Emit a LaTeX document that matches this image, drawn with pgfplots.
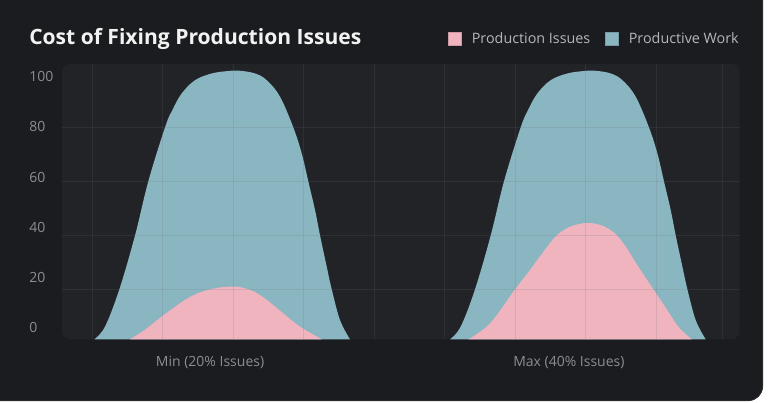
\documentclass[border=0pt]{standalone}
\usepackage{pgfplots}
\pgfplotsset{compat=1.18}
\usepackage{fontspec}
\setmainfont{Open Sans}

\definecolor{pagebg}{HTML}{FFFFFF}
\definecolor{cardbg}{HTML}{1B1C1F}
\definecolor{cardedge}{HTML}{2A2B30}
\definecolor{plotbg}{HTML}{222327}
\definecolor{gridc}{HTML}{6C6F76}
\definecolor{workc}{HTML}{8AB6C2}
\definecolor{issuec}{HTML}{F0B4BF}
\definecolor{ticktext}{HTML}{8B8D95}
\definecolor{legtext}{HTML}{B4B6BC}
\definecolor{titletext}{HTML}{F2F2F3}

% Productive work (full effort curve), Min scenario
\pgfplotstableread{
x y
0.028 0
0.180 4.7
0.383 18.5
0.606 38.5
0.794 58.5
1.031 78.5
1.135 84.9
1.268 91.1
1.457 96.0
1.694 98.5
1.929 99.4
2.090 99.5
2.308 98.5
2.474 96.0
2.662 89.9
2.851 78.5
2.970 68.9
3.064 58.5
3.159 47.9
3.230 38.5
3.325 26.9
3.396 18.5
3.514 7.1
3.655 0
}\workmin

% Productive work, Max scenario
\pgfplotstableread{
x y
5.073 0
5.225 4.7
5.428 18.5
5.651 38.5
5.839 58.5
6.076 78.5
6.180 84.9
6.313 91.1
6.502 96.0
6.739 98.5
6.974 99.4
7.135 99.5
7.353 98.5
7.519 96.0
7.707 89.9
7.896 78.5
8.015 68.9
8.109 58.5
8.204 47.9
8.275 38.5
8.370 26.9
8.441 18.5
8.559 7.1
8.700 0
}\workmax

% Production issues, Min scenario
\pgfplotstableread{
x y
0.535 0
0.750 3.6
0.984 8.4
1.315 14.6
1.552 17.6
1.787 19.1
1.980 19.5
2.120 19.2
2.300 17.6
2.474 14.6
2.709 9.6
2.946 4.7
3.254 0
}\issuemin

% Production issues, Max scenario
\pgfplotstableread{
x y
5.333 0
5.641 5.9
5.996 18.5
6.209 25.7
6.397 32.4
6.587 38.5
6.776 41.7
6.965 43.0
7.060 43.1
7.173 42.6
7.300 41.3
7.450 38.3
7.600 33.0
7.745 26.9
8.123 12.1
8.312 4.7
8.502 0
}\issuemax

\begin{document}
\begin{tikzpicture}
\useasboundingbox (0,0) rectangle (576pt,-302.25pt);
\clip (0,0) rectangle (576pt,-302.25pt);
\begin{scope}[x=0.75pt,y=-0.75pt]
  \fill[pagebg] (0,0) rectangle (768,403);
  \fill[cardbg, draw=cardedge, line width=0.75pt, rounded corners=10.5pt] (-30,-30) rectangle (762.5,400.5);
  \fill[plotbg, rounded corners=6pt] (62,64) rectangle (739.5,339.3);
  \node[anchor=base west, inner sep=0pt, text=titletext,
        font=\bfseries\fontsize{15.8}{18}\selectfont] at (29,45)
        {Cost of Fixing Production Issues};
\end{scope}

\begin{axis}[
  at={(46.5pt,-254.475pt)}, anchor=south west,
  width=508.125pt, height=206.475pt, scale only axis,
  xmin=-0.43, xmax=9.18, ymin=0, ymax=102,
  axis line style={draw=none},
  tick style={draw=none},
  axis on top,
  xtick={0,1,2,3,4,5,6,7,8,8.94},
  xticklabels={},
  ytick={18.5,38.5,58.5,78.5},
  yticklabels={},
  grid=major,
  major grid style={gridc, opacity=0.18, line width=0.75pt},
  extra x ticks={1.67,6.76},
  extra x tick labels={Min (20\% Issues), Max (40\% Issues)},
  extra x tick style={grid=none},
  extra y ticks={4.37,23.0,41.6,60.1,78.7,97.3},
  extra y tick labels={0,20,40,60,80,100},
  extra y tick style={grid=none},
  /pgf/number format/assume math mode=true,
  ticklabel style={text=ticktext, font=\fontsize{10.5}{12}\selectfont, inner sep=0pt},
  yticklabel style={anchor=west, xshift=-24.75pt},
  xticklabel style={anchor=base, yshift=-20.5pt},
  legend columns=2,
  legend style={draw=none, fill=none, at={(0.9993,1.0908)}, anchor=east,
    inner sep=0pt, text=legtext, font=\fontsize{10.75}{12}\selectfont,
    nodes={inner sep=0pt},
    /tikz/every odd column/.append style={column sep=7.5pt},
    /tikz/every even column/.append style={column sep=11.25pt}},
  legend image code/.code={\draw[#1] (0pt,-4.875pt) rectangle (9.75pt,4.875pt);},
]
\addlegendimage{fill=issuec, draw=issuec!85!black, line width=0.4pt}
\addlegendentry{Production Issues}
\addlegendimage{fill=workc, draw=workc!85!black, line width=0.4pt}
\addlegendentry{Productive Work}

\addplot[forget plot, draw=none, fill=workc, smooth, tension=0.6] table {\workmin} \closedcycle;
\addplot[forget plot, draw=none, fill=workc, smooth, tension=0.6] table {\workmax} \closedcycle;
\addplot[forget plot, draw=none, fill=issuec, smooth, tension=0.6] table {\issuemin} \closedcycle;
\addplot[forget plot, draw=none, fill=issuec, smooth, tension=0.6] table {\issuemax} \closedcycle;
\end{axis}
\end{tikzpicture}
\end{document}
